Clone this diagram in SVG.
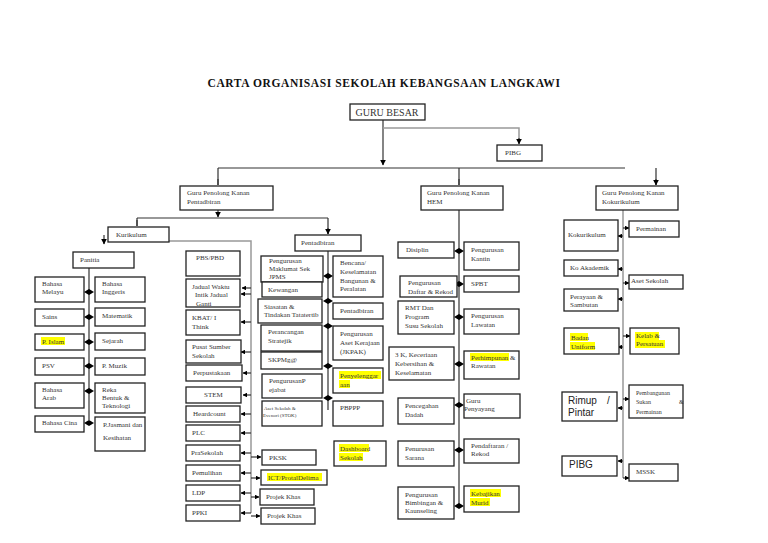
<svg xmlns="http://www.w3.org/2000/svg" width="768" height="543" viewBox="0 0 768 543">
<defs>
<marker id="ar" viewBox="0 0 10 10" refX="9" refY="5" markerWidth="5" markerHeight="5" orient="auto"><path d="M0,0L10,5L0,10z" fill="#000"/></marker>
<marker id="sa" viewBox="0 0 10 10" refX="9" refY="5" markerWidth="4" markerHeight="4" orient="auto"><path d="M0,0L10,5L0,10z" fill="#000"/></marker>
<style>
rect.b{fill:#fff;stroke:#222;stroke-width:1.3}
text{font-family:"Liberation Serif","DejaVu Serif",serif;font-size:7px;fill:#333}
.l{stroke:#333;stroke-width:1.2;fill:none}
.g{stroke:#999;stroke-width:1.5;fill:none}
.hl{fill:#ffff00}
.d{fill:#000}
</style>
</defs>
<rect width="768" height="543" fill="#fff"/>
<text x="384" y="87" text-anchor="middle" style="font-size:11.5px;font-weight:bold;fill:#111;letter-spacing:0.6px">CARTA ORGANISASI SEKOLAH KEBANGSAAN LANGKAWI</text>

<g id="connectors">
<path class="l" d="M383,120V165" marker-end="url(#ar)"/>
<path class="g" d="M383,128H519V142"/><path class="l" d="M519,138V144" marker-end="url(#ar)"/>
<path class="l" d="M218,168H625M218,168V185M459,168V185M656,168V185"/>
<path class="l" d="M218,179V185M459,179V185M656,179V185" marker-end="url(#ar)"/>
<path class="l" d="M218,210V217" marker-end="url(#ar)"/>
<path class="l" d="M137,218H328M137,218V226M328,218V234"/>
<path class="l" d="M137,220V226M328,228V234" marker-end="url(#ar)"/>
<path class="l" d="M104,235V244" marker-end="url(#ar)"/>
<path class="g" d="M169,241H251V513"/>
<g class="l" marker-end="url(#sa)">
<path d="M251,288H242"/><path d="M251,294H241"/><path d="M251,322H241"/><path d="M251,352H241"/><path d="M251,373H243"/><path d="M251,395H243"/><path d="M251,414H241"/><path d="M251,433H241"/><path d="M251,453H241"/><path d="M251,473H241"/><path d="M251,493H241"/><path d="M251,513H241"/>
<path d="M251,457H261"/><path d="M251,478H260"/><path d="M251,497H259"/><path d="M251,516H260"/>
</g>
<path class="l" d="M89,268V420M328,251V410M459,210V508"/>
<path class="g" d="M623,210V478"/>
<g class="l" marker-end="url(#sa)">
<path d="M623,228H629"/><path d="M623,236H618"/><path d="M623,269H618"/><path d="M623,283H629"/><path d="M623,299H618"/><path d="M623,336H630"/><path d="M623,347H618"/><path d="M623,399H629"/><path d="M623,408H618"/><path d="M623,461H618"/><path d="M623,478H629"/>
</g>
<g class="d">
<path d="M84,292l5,-3l5,3l-5,3z"/><path d="M84,317l5,-3l5,3l-5,3z"/><path d="M84,342l5,-3l5,3l-5,3z"/><path d="M84,366l5,-3l5,3l-5,3z"/><path d="M84,391l5,-3l5,3l-5,3z"/><path d="M84,423l5,-3l5,3l-5,3z"/>
<path d="M323,276l5,-3l5,3l-5,3z"/><path d="M323,301l5,-3l5,3l-5,3z"/><path d="M323,326l5,-3l5,3l-5,3z"/><path d="M323,366l5,-3l5,3l-5,3z"/><path d="M323,398l5,-3l5,3l-5,3z"/>
<path d="M454,251l5,-3l5,3l-5,3z"/><path d="M454,284l5,-3l5,3l-5,3z"/><path d="M454,317l5,-3l5,3l-5,3z"/><path d="M454,364l5,-3l5,3l-5,3z"/><path d="M454,405l5,-3l5,3l-5,3z"/><path d="M454,450l5,-3l5,3l-5,3z"/><path d="M454,506l5,-3l5,3l-5,3z"/>
</g>
</g>

<g id="guru-besar"><rect class="b" x="350" y="104" width="75" height="16"/><text x="387" y="116" text-anchor="middle" style="font-size:10px">GURU BESAR</text></g>
<g id="pibg-top"><rect class="b" x="497" y="145" width="45" height="16"/><text x="505" y="155">PIBG</text></g>
<g id="gpk-pentadbiran"><rect class="b" x="180" y="186" width="93" height="24"/><text x="187" y="195">Guru Penolong Kanan<tspan x="187" dy="9">Pentadbiran</tspan></text></g>
<g id="gpk-hem"><rect class="b" x="421" y="186" width="82" height="24"/><text x="427" y="195">Guru Penolong Kanan<tspan x="427" dy="9">HEM</tspan></text></g>
<g id="gpk-koku"><rect class="b" x="596" y="186" width="82" height="24"/><text x="602" y="195">Guru Penolong Kanan<tspan x="602" dy="9">Kokurikulum</tspan></text></g>

<g id="kurikulum"><rect class="b" x="108" y="227" width="61" height="15"/><text x="116" y="237">Kurikulum</text></g>
<g id="pentadbiran"><rect class="b" x="295" y="235" width="66" height="16"/><text x="301" y="245">Pentadbiran</text></g>
<g id="panitia"><rect class="b" x="73" y="252" width="61" height="16"/><text x="80" y="262">Panitia</text></g>

<g id="bm"><rect class="b" x="35" y="277" width="49" height="25"/><text x="42" y="286">Bahasa<tspan x="42" dy="8">Melayu</tspan></text></g>
<g id="sains"><rect class="b" x="35" y="309" width="49" height="17"/><text x="42" y="319">Sains</text></g>
<g id="pislam"><rect class="b" x="35" y="334" width="49" height="16"/><rect class="hl" x="41" y="337" width="24" height="8"/><text x="42" y="344">P. Islam</text></g>
<g id="psv"><rect class="b" x="35" y="358" width="49" height="17"/><text x="42" y="368">PSV</text></g>
<g id="barab"><rect class="b" x="35" y="383" width="49" height="25"/><text x="42" y="392">Bahasa<tspan x="42" dy="8">Arab</tspan></text></g>
<g id="bcina"><rect class="b" x="35" y="416" width="49" height="16"/><text x="42" y="425">Bahasa Cina</text></g>
<g id="bi"><rect class="b" x="95" y="277" width="50" height="25"/><text x="102" y="286">Bahasa<tspan x="102" dy="8">Inggeris</tspan></text></g>
<g id="mt"><rect class="b" x="95" y="308" width="50" height="18"/><text x="102" y="318">Matematik</text></g>
<g id="sejarah"><rect class="b" x="95" y="333" width="50" height="17"/><text x="102" y="343">Sejarah</text></g>
<g id="pmuzik"><rect class="b" x="95" y="358" width="50" height="17"/><text x="102" y="368">P. Muzik</text></g>
<g id="rbt"><rect class="b" x="95" y="383" width="50" height="30"/><text x="102" y="392">Reka<tspan x="102" dy="8">Bentuk &amp;</tspan><tspan x="102" dy="8">Teknologi</tspan></text></g>
<g id="pjk"><rect class="b" x="95" y="417" width="50" height="34"/><text x="103" y="427">P.Jasmani dan<tspan x="103" dy="13">Kesihatan</tspan></text></g>

<g id="pbs"><rect class="b" x="186" y="251" width="54" height="25"/><text x="196" y="260">PBS/PBD</text></g>
<g id="jadual"><rect class="b" x="186" y="279" width="54" height="28"/><text x="192" y="289">Jadual Waktu<tspan x="195" dy="8">Intik Jadual</tspan><tspan x="196" dy="9">Ganti</tspan></text></g>
<g id="kbat"><rect class="b" x="186" y="310" width="54" height="25"/><text x="192" y="320">KBAT/ I<tspan x="192" dy="9">Think</tspan></text></g>
<g id="psumber"><rect class="b" x="186" y="340" width="55" height="23"/><text x="192" y="349">Pusat Sumber<tspan x="192" dy="9">Sekolah</tspan></text></g>
<g id="perpus"><rect class="b" x="186" y="365" width="56" height="16"/><text x="193" y="375">Perpustakaan</text></g>
<g id="stem"><rect class="b" x="186" y="387" width="55" height="16"/><text x="204" y="397">STEM</text></g>
<g id="headcount"><rect class="b" x="186" y="406" width="54" height="16"/><text x="193" y="416">Heardcount</text></g>
<g id="plc"><rect class="b" x="186" y="425" width="54" height="16"/><text x="192" y="435">PLC</text></g>
<g id="prasek"><rect class="b" x="186" y="445" width="54" height="16"/><text x="191" y="455">PraSekolah</text></g>
<g id="pemulihan"><rect class="b" x="186" y="465" width="54" height="16"/><text x="192" y="475">Pemulihan</text></g>
<g id="ldp"><rect class="b" x="186" y="485" width="54" height="16"/><text x="192" y="495">LDP</text></g>
<g id="ppki"><rect class="b" x="186" y="505" width="54" height="16"/><text x="192" y="515">PPKI</text></g>
<g id="pksk"><rect class="b" x="262" y="450" width="54" height="15"/><text x="269" y="460">PKSK</text></g>
<g id="ict"><rect class="b" x="261" y="470" width="66" height="15"/><rect class="hl" x="267" y="473" width="55" height="8"/><text x="268" y="480">ICT/ProtalDelima</text></g>
<g id="pk1"><rect class="b" x="260" y="489" width="54" height="16"/><text x="266" y="499">Projek Khas</text></g>
<g id="pk2"><rect class="b" x="261" y="508" width="54" height="16"/><text x="267" y="518">Projek Khas</text></g>

<g id="jpms"><rect class="b" x="261" y="256" width="62" height="26"/><text x="269" y="263">Pengurusan<tspan x="269" dy="8">Maklumat Sek</tspan><tspan x="269" dy="8">JPMS</tspan></text></g>
<g id="kewangan"><rect class="b" x="262" y="282" width="60" height="15"/><text x="268" y="292">Kewangan</text></g>
<g id="siasatan"><rect class="b" x="258" y="299" width="64" height="24"/><text x="264" y="309">Siasatan &amp;<tspan x="264" dy="8">Tindakan Tatatertib</tspan></text></g>
<g id="perancangan"><rect class="b" x="261" y="325" width="61" height="26"/><text x="268" y="334">Perancangan<tspan x="268" dy="9">Stratejik</tspan></text></g>
<g id="skpm"><rect class="b" x="261" y="352" width="61" height="17"/><text x="268" y="362">SKPMg@</text></g>
<g id="pejabat"><rect class="b" x="262" y="374" width="60" height="24"/><text x="269" y="383">PengurusanP<tspan x="269" dy="9">ejabat</tspan></text></g>
<g id="aset"><rect class="b" x="262" y="401" width="60" height="25"/><text x="264" y="410" style="font-size:5px">Aset Sekolah &amp;<tspan x="263" dy="7">Evenori (STOK)</tspan></text></g>
<g id="bencana"><rect class="b" x="333" y="256" width="50" height="41"/><text x="340" y="265">Bencana/<tspan x="340" dy="9">Keselamatan</tspan><tspan x="340" dy="9">Bangunan &amp;</tspan><tspan x="340" dy="8">Peralatan</tspan></text></g>
<g id="pentadbiran2"><rect class="b" x="333" y="303" width="50" height="16"/><text x="340" y="313">Pentadbiran</text></g>
<g id="jkpak"><rect class="b" x="333" y="326" width="50" height="34"/><text x="340" y="336">Pengurusan<tspan x="340" dy="9">Aset Kerajaan</tspan><tspan x="340" dy="9">(JKPAK)</tspan></text></g>
<g id="penyelenggaraan"><rect class="b" x="333" y="368" width="50" height="25"/><rect class="hl" x="339" y="371" width="42" height="8"/><rect class="hl" x="339" y="380" width="11" height="8"/><text x="340" y="378">Penyelenggar<tspan x="340" dy="9">aan</tspan></text></g>
<g id="pbppp"><rect class="b" x="333" y="401" width="50" height="25"/><text x="340" y="410">PBPPP</text></g>
<g id="dashboard"><rect class="b" x="334" y="441" width="52" height="25"/><rect class="hl" x="339" y="444" width="30" height="8"/><rect class="hl" x="339" y="453" width="24" height="8"/><text x="340" y="451">Dashboard<tspan x="340" dy="9">Sekolah</tspan></text></g>

<g id="disiplin"><rect class="b" x="398" y="242" width="56" height="16"/><text x="406" y="252">Disiplin</text></g>
<g id="daftar"><rect class="b" x="400" y="276" width="57" height="21"/><text x="408" y="285">Pengurusan<tspan x="408" dy="9">Daftar &amp; Rekod</tspan></text></g>
<g id="rmt"><rect class="b" x="398" y="301" width="56" height="33"/><text x="405" y="310">RMT Dan<tspan x="405" dy="9">Program</tspan><tspan x="405" dy="9">Susu Sekolah</tspan></text></g>
<g id="tigak"><rect class="b" x="389" y="347" width="65" height="33"/><text x="395" y="357">3 K, Keceriaan<tspan x="395" dy="9">Kebersihan &amp;</tspan><tspan x="395" dy="9">Keselamatan</tspan></text></g>
<g id="dadah"><rect class="b" x="398" y="398" width="56" height="26"/><text x="405" y="408">Pencegahan<tspan x="405" dy="9">Dadah</tspan></text></g>
<g id="sarana"><rect class="b" x="398" y="441" width="56" height="25"/><text x="405" y="451">Penurusan<tspan x="405" dy="9">Sarana</tspan></text></g>
<g id="bimbingan"><rect class="b" x="398" y="487" width="56" height="32"/><text x="405" y="497">Pengurusan<tspan x="405" dy="8">Bimbingan &amp;</tspan><tspan x="405" dy="8">Kaunseling</tspan></text></g>
<g id="kantin"><rect class="b" x="464" y="242" width="55" height="28"/><text x="471" y="252">Pengurusan<tspan x="471" dy="9">Kantin</tspan></text></g>
<g id="spbt"><rect class="b" x="464" y="276" width="55" height="16"/><text x="471" y="286">SPBT</text></g>
<g id="lawatan"><rect class="b" x="464" y="309" width="55" height="25"/><text x="471" y="318">Pengurusan<tspan x="471" dy="9">Lawatan</tspan></text></g>
<g id="perhimpunan"><rect class="b" x="464" y="351" width="55" height="28"/><rect class="hl" x="470" y="353" width="39" height="8"/><text x="471" y="360">Perhimpunan &amp;<tspan x="471" dy="8">Rawatan</tspan></text></g>
<g id="penyayang"><rect class="b" x="464" y="394" width="56" height="24"/><text x="466" y="403">Guru<tspan x="464" dy="8">Penyayang</tspan></text></g>
<g id="pendaftaran"><rect class="b" x="464" y="439" width="55" height="24"/><text x="471" y="448">Pendaftaran /<tspan x="471" dy="8">Rekod</tspan></text></g>
<g id="kebajikan"><rect class="b" x="464" y="486" width="55" height="26"/><rect class="hl" x="470" y="489" width="31" height="8"/><rect class="hl" x="470" y="498" width="20" height="8"/><text x="471" y="496">Kebajikan<tspan x="471" dy="9">Murid</tspan></text></g>

<g id="kokurikulum"><rect class="b" x="564" y="220" width="54" height="31"/><text x="568" y="237">Kokurikulum</text></g>
<g id="koakademik"><rect class="b" x="564" y="260" width="54" height="16"/><text x="570" y="270">Ko Akademik</text></g>
<g id="perayaan"><rect class="b" x="564" y="289" width="54" height="22"/><text x="570" y="299">Perayaan &amp;<tspan x="570" dy="8">Sambutan</tspan></text></g>
<g id="uniform"><rect class="b" x="564" y="328" width="55" height="26"/><rect class="hl" x="570" y="333" width="18" height="8"/><rect class="hl" x="570" y="342" width="25" height="8"/><text x="571" y="340">Badan<tspan x="571" dy="9">Uniform</tspan></text></g>
<g id="rimup"><rect class="b" x="562" y="392" width="55" height="29"/><text x="568" y="404" style="font-family:'Liberation Sans',Arial,sans-serif;font-size:10px;fill:#222">Rimup<tspan x="607">/</tspan><tspan x="568" dy="12">Pintar</tspan></text></g>
<g id="pibg"><rect class="b" x="562" y="456" width="55" height="20"/><text x="569" y="468" style="font-family:'Liberation Sans',Arial,sans-serif;font-size:10px;fill:#222">PIBG</text></g>
<g id="permainan"><rect class="b" x="629" y="221" width="50" height="16"/><text x="636" y="231">Permainan</text></g>
<g id="asetsekolah"><rect class="b" x="629" y="275" width="54" height="14"/><text x="631" y="283">Aset Sekolah</text></g>
<g id="kelab"><rect class="b" x="630" y="328" width="49" height="26"/><rect class="hl" x="635" y="332" width="24" height="8"/><rect class="hl" x="635" y="340" width="30" height="8"/><text x="636" y="338">Kelab &amp;<tspan x="636" dy="8">Persatuan</tspan></text></g>
<g id="sukan"><rect class="b" x="629" y="385" width="54" height="33"/><text x="636" y="395" style="font-size:6px">Pembangunan<tspan x="636" dy="9">Sukan</tspan><tspan x="679">&amp;</tspan><tspan x="636" dy="10">Permainan</tspan></text></g>
<g id="mssk"><rect class="b" x="629" y="464" width="49" height="17"/><text x="636" y="474">MSSK</text></g>
</svg>
